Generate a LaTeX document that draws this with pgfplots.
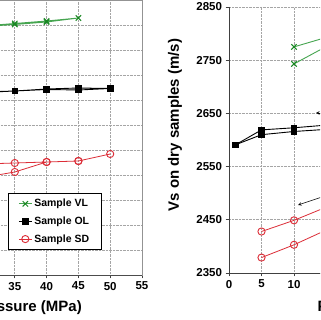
\documentclass[border=0pt]{standalone}
\usepackage{pgfplots}
\pgfplotsset{compat=1.18}
\usepackage{fontspec}
\setmainfont{Liberation Sans}

\definecolor{vlgreen}{RGB}{25,135,35}
\definecolor{vlline}{RGB}{70,165,80}
\definecolor{sdred}{RGB}{220,45,55}
\definecolor{gridgray}{RGB}{165,165,165}

\pgfplotsset{
  panel/.style={
    scale only axis,
    tick label style={font=\fontsize{11.5}{13}\selectfont\bfseries},
    /pgf/number format/assume math mode=true,
    /pgf/number format/set thousands separator={},
    grid=major,
    major grid style={densely dotted, gridgray, line width=0.6pt},
    tick align=outside,
    major tick length=3.5pt,
    tick style={black!75, line width=0.6pt},
    clip=false,
  },
  vl/.style={vlline, line width=0.9pt, mark=x, mark size=3.8pt,
    mark options={vlgreen, line width=1pt}},
  ol/.style={black, line width=0.9pt, mark=square*, mark size=2.8pt,
    mark options={black}},
  sd/.style={sdred, line width=0.8pt, mark=o, mark size=3.6pt,
    mark options={sdred, fill=white, line width=0.9pt}},
}

\begin{document}
\begin{tikzpicture}
\path[use as bounding box] (0,0) rectangle (320pt,320pt);
\fill[white] (0,0) rectangle (320pt,320pt);
\clip (0,0) rectangle (320pt,320pt);

% Saturated samples: velocity against confining pressure
\begin{axis}[panel,
  at={(-207.8pt,45pt)}, anchor=south west,
  width=349.8pt, height=275pt,
  xmin=0, xmax=55, ymin=2600, ymax=3150,
  xtick={35,40,...,55}, ytick={2650,2700,...,3100},
  yticklabels={}, ytick style={draw=none},
  extra x ticks={20,25,30}, extra x tick labels={},
  extra x tick style={grid=major, tick style={draw=none}},
  axis line style={gray!85, line width=0.7pt},
  legend style={at={(0.617,0.091)}, anchor=south west,
    font=\fontsize{10.5}{12}\selectfont\bfseries,
    draw=black, line width=0.7pt, fill=white,
    row sep=4.5pt, inner xsep=10pt, inner ysep=4pt,
    cells={anchor=west}},
  legend image code/.code={%
    \draw[mark repeat=2, mark phase=2]
      plot coordinates {(0pt,0pt) (6.5pt,0pt) (13pt,0pt)};},
]
\addplot[vl] coordinates {(30,3098) (35,3103) (40,3108) (45,3114)
  (40,3106) (35,3101) (30,3097)};
\addlegendentry{Sample VL}
\addplot[ol] coordinates {(30,2966) (35,2968) (40,2972) (45,2974) (50,2973)
  (45,2970) (40,2971) (35,2968) (30,2965)};
\addlegendentry{Sample OL}
\addplot[sd] coordinates {(30,2795) (35,2806) (40,2826) (45,2828) (50,2842)
  (45,2828) (40,2826) (35,2824) (30,2822)};
\addlegendentry{Sample SD}
\draw[black!70, line width=0.8pt] (rel axis cs:0,0) -- (rel axis cs:1,0);
\end{axis}

% Dry samples: shear velocity against confining pressure
\begin{axis}[panel,
  at={(229pt,47pt)}, anchor=south west,
  width=357.5pt, height=266pt,
  xmin=0, xmax=55, ymin=2350, ymax=2850,
  xtick={0,5,10}, ytick={2350,2450,...,2850},
  axis x line*=bottom, axis y line*=left,
  axis line style={black!75, line width=0.8pt, -},
]
\addplot[vl] coordinates {(10,2775) (15,2793) (20,2806)};
\addplot[vl] coordinates {(10,2743) (15,2776) (20,2790)};
\addplot[ol] coordinates {(1,2591) (5,2610) (10,2616) (15,2620) (20,2624)};
\addplot[ol] coordinates {(1,2591) (5,2619) (10,2623) (15,2628) (20,2632)};
\addplot[sd] coordinates {(5,2428) (10,2449) (15,2474) (20,2492)};
\addplot[sd] coordinates {(5,2379) (10,2403) (15,2431) (20,2452)};
\end{axis}

% annotation arrows and axis titles
\draw[black, line width=0.6pt, -stealth] (322pt,123pt) -- (298pt,115pt);
\draw[black, line width=0.6pt, -stealth] (330pt,207pt) -- (316pt,207pt);

\node[rotate=90, inner sep=0pt, font=\fontsize{15}{18}\selectfont\bfseries]
  at (175pt,195pt) {Vs on dry samples (m/s)};
\node[anchor=east, inner sep=0pt, font=\fontsize{15}{18}\selectfont\bfseries]
  at (82pt,12pt) {Confining pressure (MPa)};
\node[anchor=west, inner sep=0pt, font=\fontsize{15}{18}\selectfont\bfseries]
  at (317.5pt,12pt) {Pressure (MPa)};
\end{tikzpicture}
\end{document}
